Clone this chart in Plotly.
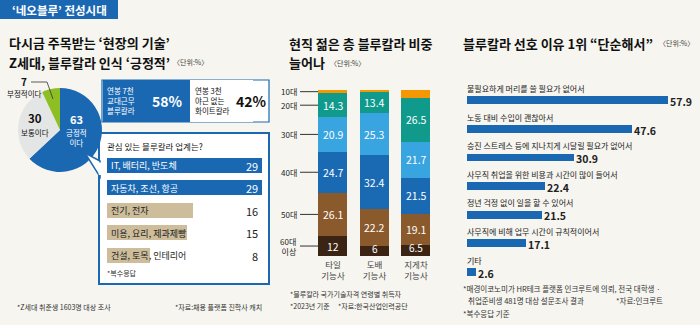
import plotly.graph_objects as go

W, H = 700, 325
BG = "#f6f5ef"
BLUE = "#1a68b2"
TAN = "#cdbd9b"
DARK = "#1e1e1e"
FONT = "Noto Sans CJK KR, Noto Sans, sans-serif"

# ---------------- data ----------------
pie_labels = ["긍정적<br>이다", "보통이다", "부정적이다"]
pie_values = [63, 30, 7]
pie_colors = [BLUE, "#e4e6e5", "#8dbf24"]

card_labels = ["연봉 7천<br>교대근무<br>블루칼라", "연봉 3천<br>야근 없는<br>화이트칼라"]
card_values = [58, 42]

interest_cats = ["IT, 배터리, 반도체", "자동차, 조선, 항공", "전기, 전자",
                 "미용, 요리, 제과제빵", "건설, 토목, 인테리어"]
interest_values = [29, 29, 16, 15, 8]

jobs = ["타일<br>기능사", "도배<br>기능사", "지게차<br>기능사"]
age_groups = ["60대<br>이상", "50대", "40대", "30대", "20대", "10대"]
age_60plus = [12, 6, 6.5]
age_50s = [26.1, 22.2, 19.1]
age_40s = [24.7, 32.4, 21.5]
age_30s = [20.9, 25.3, 21.7]
age_20s = [14.3, 13.4, 26.5]
age_10s = [2.0, 0.7, 4.7]
age_colors = ["#3c2414", "#8a5a2c", "#1a6ab3", "#38a4e0", "#0f9a8c", "#f39800"]

reasons = ["불필요하게 머리를 쓸 필요가 없어서", "노동 대비 수입이 괜찮아서",
           "승진 스트레스 등에 지나치게 시달릴 필요가 없어서",
           "사무직 취업을 위한 비용과 시간이 많이 들어서",
           "정년 걱정 없이 일을 할 수 있어서",
           "사무직에 비해 업무 시간이 규칙적이어서", "기타"]
reason_values = [57.9, 47.6, 30.9, 22.4, 21.5, 17.1, 2.6]


def px(x):
    return x / W


def py(y):
    return 1 - y / H


annotations = []
shapes = []


def A(text, x, y, size=8, color=DARK, xanchor="left", bold=False,
      xref="paper", yref="paper", yshift=0, xshift=0, yanchor="middle"):
    if xref == "paper":
        x = px(x)
    if yref == "paper":
        y = py(y)
    if bold:
        text = "<b>" + text + "</b>"
    annotations.append(dict(text=text, x=x, y=y, xref=xref, yref=yref,
                            showarrow=False, xanchor=xanchor, yanchor=yanchor,
                            borderpad=0,
                            font=dict(size=size, color=color, family=FONT),
                            yshift=yshift, xshift=xshift, align=xanchor if xanchor != "center" else "center"))


def rect(x0, y0, x1, y1, fill, line=None, lw=0, layer="below"):
    shapes.append(dict(type="rect", xref="paper", yref="paper",
                       x0=px(x0), x1=px(x1), y0=py(y0), y1=py(y1),
                       fillcolor=fill, line=dict(color=line or fill, width=lw),
                       layer=layer))


fig = go.Figure()

# ---------------- header tag ----------------
rect(0, 0, 118, 19, BLUE)
A("‘네오블루’ 전성시대", 59, 10, size=11.5, color="white", xanchor="center", bold=True)

# ---------------- left panel ----------------
A("다시금 주목받는 ‘현장의 기술’", 8, 42, size=13, bold=True, color="#111")
A("Z세대, 블루칼라 인식 ‘긍정적’", 8, 62, size=13, bold=True, color="#111")
A("〈단위:%〉", 172, 62, size=7, color="#444")

fig.add_trace(go.Pie(values=pie_values, labels=pie_labels, marker=dict(colors=pie_colors, line=dict(width=0)),
                     sort=False, direction="clockwise", rotation=0, textinfo="none",
                     hoverinfo="skip", showlegend=False,
                     domain=dict(x=[px(18), px(102)], y=[py(172), py(88)])))
A(str(pie_values[0]), 76, 119, size=11, color="white", xanchor="center", bold=True)
A(pie_labels[0], 76, 137, size=7.5, color="white", xanchor="center")
A(str(pie_values[1]), 35, 118.5, size=11.5, color="#111", xanchor="center", bold=True)
A(pie_labels[1], 35, 132.5, size=7.5, color="#111", xanchor="center")
A(str(pie_values[2]), 24, 81, size=10, color="#111", xanchor="center", bold=True)
A(pie_labels[2], 24, 94, size=7.5, color="#111", xanchor="center")
shapes.append(dict(type="path", xref="paper", yref="paper",
                   path=f"M {px(31)} {py(82)} L {px(47)} {py(82)} L {px(53)} {py(99)}",
                   line=dict(color="#333", width=0.8), layer="above"))

# comparison card
rect(102, 80, 269, 122, "white", BLUE, 1.2)
fig.add_trace(go.Bar(x=[card_values[0]], y=[0], orientation="h", width=1, marker=dict(color=BLUE, line=dict(width=0)),
                     xaxis="x", yaxis="y", hoverinfo="skip", showlegend=False))
fig.add_trace(go.Bar(x=[card_values[1]], y=[0], orientation="h", width=1, marker=dict(color="white", line=dict(width=0)),
                     xaxis="x", yaxis="y", hoverinfo="skip", showlegend=False))
A(card_labels[0], 106, 100, size=7.5, color="white")
A(f"{card_values[0]}%", 167, 101, size=14, color="white", xanchor="center", bold=True)
A(card_labels[1], 194, 100, size=7.5, color="#111")
A(f"{card_values[1]}%", 251, 101, size=14, color="#111", xanchor="center", bold=True)

# interest box
rect(99, 133, 269, 284, "white", BLUE, 2)
shapes.append(dict(type="path", xref="paper", yref="paper",
                   path=f"M {px(100)} {py(161)} L {px(85)} {py(153)} L {px(100)} {py(177)} Z",
                   fillcolor="white", line=dict(color=BLUE, width=1.5), layer="above"))
shapes.append(dict(type="line", xref="paper", yref="paper", x0=px(100.2), x1=px(100.2), y0=py(162.5), y1=py(175),
                   line=dict(color="white", width=3), layer="above"))
A("관심 있는 블루칼라 업계는?", 106, 146, size=8.5, color="#111")
imax = max(interest_values)
icolors = [BLUE if v == imax else TAN for v in interest_values]
fig.add_trace(go.Bar(x=interest_values, y=interest_cats, orientation="h", width=0.67,
                     marker=dict(color=icolors, line=dict(width=0)),
                     xaxis="x2", yaxis="y2", hoverinfo="skip", showlegend=False))
for c, v, col in zip(interest_cats, interest_values, icolors):
    tc = "white" if col == BLUE else "#222"
    A(c, 0, c, size=9, color=tc, xref="x2", yref="y2", xshift=3)
    A(str(v), imax, c, size=11, color=tc, xanchor="right", xref="x2", yref="y2", xshift=-3)
A("*복수응답", 106, 273, size=7, color="#333")

A("*Z세대 취준생 1603명 대상 조사", 16, 307, size=7, color="#333")
A("*자료:채용 플랫폼 진학사 캐치", 174, 307, size=7, color="#333")

# ---------------- middle panel ----------------
A("현직 젊은 층 블루칼라 비중", 288, 43, size=13, bold=True, color="#111")
A("늘어나", 288, 63, size=13, bold=True, color="#111")
A("〈단위:%〉", 329, 63, size=7, color="#444")

age_series = [age_60plus, age_50s, age_40s, age_30s, age_20s, age_10s]
cum = [0.0] * len(jobs)
first_centers = []
for name, vals, col in zip(age_groups, age_series, age_colors):
    fig.add_trace(go.Bar(x=jobs, y=vals, width=0.7, marker=dict(color=col, line=dict(width=0)),
                         xaxis="x3", yaxis="y3", hoverinfo="skip", showlegend=False))
    for j, v in enumerate(vals):
        center = cum[j] + v / 2
        if name != "10대":
            A(f"{v:g}", jobs[j], center, size=10 if v < 8 else 10.5, color="white", xanchor="center",
              xref="x3", yref="y3", yshift=3 if v < 8 else 0)
        if j == 0:
            first_centers.append(center)
        cum[j] += v

for name, cy in zip(age_groups, first_centers):
    A(name, 298, cy, size=8, color="#222", xanchor="right", yref="y3")
    shapes.append(dict(type="line", xref="paper", yref="y3", x0=px(300), x1=px(318), y0=cy, y1=cy,
                       line=dict(color="#333", width=1)))

A("*블루칼라 국가기술자격 연령별 취득자", 289, 294, size=7, color="#333")
A("*2023년 기준", 289, 306, size=7, color="#333")
A("*자료:한국산업인력공단", 337, 306, size=7, color="#333")

# ---------------- right panel ----------------
A("블루칼라 선호 이유 1위 “단순해서”", 462, 43, size=13, bold=True, color="#111")
A("〈단위:%〉", 658, 43, size=7, color="#444")
fig.add_trace(go.Bar(x=reason_values, y=reasons, orientation="h", width=0.27,
                     marker=dict(color=BLUE, line=dict(width=0)),
                     xaxis="x4", yaxis="y4", hoverinfo="skip", showlegend=False))
for r, v in zip(reasons, reason_values):
    A(r, 0, r, size=8, color="#222", xref="x4", yref="y4", yshift=11.5, xshift=-1)
    A(f"{v:g}", v, r, size=10.5, color="#222", xref="x4", yref="y4", xshift=1, yshift=-1.5, bold=True)

A("*매경이코노미가 HR테크 플랫폼 인크루트에 의뢰, 전국 대학생 ·", 462, 288, size=7.5, color="#333")
A("취업준비생 481명 대상 설문조사 결과", 467, 300, size=7.5, color="#333")
A("*자료:인크루트", 615, 300, size=7.5, color="#333")
A("*복수응답 기준", 462, 313, size=7.5, color="#333")

hidden = dict(visible=False, fixedrange=True)
scale4 = (668 - 467) / max(reason_values)
fig.update_layout(
    width=W, height=H, margin=dict(l=0, r=0, t=0, b=0),
    paper_bgcolor=BG, plot_bgcolor="rgba(0,0,0,0)",
    barmode="stack", bargap=0, hovermode=False,
    font=dict(family=FONT),
    xaxis=dict(domain=[px(103), px(253)], range=[0, 100], anchor="y", **hidden),
    yaxis=dict(domain=[py(122), py(80)], range=[-0.5, 0.5], anchor="x", **hidden),
    xaxis2=dict(domain=[px(107), px(262)], range=[0, max(interest_values)], anchor="y2", **hidden),
    yaxis2=dict(domain=[py(266.75), py(154.25)], range=[len(interest_cats) - 0.5, -0.5], anchor="x2", **hidden),
    xaxis3=dict(domain=[px(312.25), px(436.75)], range=[-0.5, 2.5], anchor="y3", showgrid=False,
                zeroline=False, showline=False, ticks="", fixedrange=True, ticklabelstandoff=2,
                tickfont=dict(size=8.5, color="#444", family=FONT)),
    yaxis3=dict(domain=[py(256), py(90)], range=[0, 100], anchor="x3", **hidden),
    xaxis4=dict(domain=[px(467), px(467 + 60 * scale4)], range=[0, 60], anchor="y4", **hidden),
    yaxis4=dict(domain=[py(285.9), py(85.7)], range=[len(reasons) - 0.5, -0.5], anchor="x4", **hidden),
    annotations=annotations, shapes=shapes,
)

fig.write_html("out.html")
